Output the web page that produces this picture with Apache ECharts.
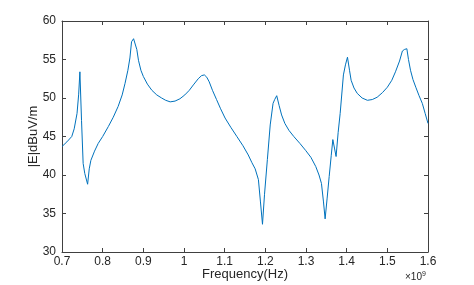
<!DOCTYPE html>
<html>
<head>
<meta charset="utf-8">
<script src="https://cdn.jsdelivr.net/npm/echarts@6/dist/echarts.min.js"></script>
<style>
html, body { margin: 0; padding: 0; background: #fff; }
#main { width: 474px; height: 285px; }
</style>
</head>
<body>
<div id="main"></div>
<script>
// frequency in units of 1e9 Hz
var freq = [0.700, 0.712, 0.724, 0.730, 0.737, 0.741, 0.744, 0.748, 0.752, 0.756, 0.763, 0.767, 0.771, 0.780, 0.789,
	0.800, 0.814, 0.826, 0.838, 0.848, 0.855, 0.862, 0.867, 0.871, 0.876, 0.880, 0.884, 0.888, 0.894, 0.900,
	0.910, 0.921, 0.933, 0.945, 0.955, 0.966, 0.978, 0.990, 1.002, 1.013, 1.023, 1.035, 1.043, 1.050, 1.056,
	1.062, 1.070, 1.080, 1.090, 1.101, 1.115, 1.130, 1.145, 1.158, 1.167, 1.175, 1.183, 1.188, 1.193, 1.198,
	1.205, 1.212, 1.219, 1.223, 1.228, 1.234, 1.240, 1.248, 1.258, 1.270, 1.285, 1.299, 1.312, 1.324, 1.332,
	1.338, 1.343, 1.347, 1.352, 1.357, 1.362, 1.366, 1.370, 1.374, 1.379, 1.384, 1.392, 1.397, 1.402, 1.407,
	1.411, 1.418, 1.426, 1.438, 1.451, 1.463, 1.475, 1.488, 1.500, 1.511, 1.520, 1.530, 1.537, 1.542, 1.548,
	1.552, 1.557, 1.563, 1.570, 1.578, 1.586, 1.593, 1.600];
var level = [43.7, 44.3, 45.0, 46.0, 48.0, 50.5, 53.4, 47.1, 41.5, 40.2, 38.8, 40.8, 41.9, 43.1, 44.1,
	45.0, 46.3, 47.5, 48.9, 50.4, 51.9, 53.6, 55.2, 57.3, 57.7, 57.9, 56.3, 54.9, 53.6, 52.8,
	51.8, 51.0, 50.4, 50.0, 49.7, 49.5, 49.6, 49.9, 50.4, 51.0, 51.7, 52.5, 52.9, 53.0, 52.7,
	52.1, 51.0, 49.8, 48.6, 47.4, 46.2, 45.0, 43.8, 42.6, 41.6, 40.8, 39.4, 36.5, 33.6, 37.5,
	42.0, 46.5, 49.3, 49.8, 50.3, 49.0, 47.8, 46.7, 45.8, 45.0, 44.1, 43.2, 42.3, 41.1, 40.0,
	38.9, 36.5, 34.3, 37.0, 39.8, 42.5, 44.6, 43.5, 42.4, 45.5, 48.0, 53.0, 54.3, 55.3, 53.6,
	52.3, 51.3, 50.6, 50.0, 49.7, 49.8, 50.1, 50.7, 51.4, 52.3, 53.4, 54.8, 56.1, 56.3, 56.4,
	55.0, 53.6, 52.4, 51.4, 50.3, 49.3, 48.0, 46.7];

var xMin = 0.7, xMax = 1.6, xStep = 0.1;
var yMin = 30, yMax = 60, yStep = 5;

var points = freq.map(function(f, k) { return [f, level[k]]; });

var axisCol = '#404040';
var textCol = '#262626';
var font = 'Liberation Sans, Arial, sans-serif';

var myChart = echarts.init(document.getElementById('main'));

var option = {
	backgroundColor: '#fff',
	animation: false,
	grid: { left: 62, right: 46, top: 21, bottom: 33, outerBoundsMode: 'none', containLabel: false },
	xAxis: [{
		type: 'value', min: xMin, max: xMax, interval: xStep,
		name: 'Frequency(Hz)', nameLocation: 'middle', nameGap: 16, nameMoveOverlap: false,
		nameTextStyle: { color: textCol, fontSize: 13, fontFamily: font },
		axisLine: { lineStyle: { color: axisCol, width: 1 } },
		axisTick: { inside: true, length: 4, lineStyle: { color: axisCol } },
		axisLabel: { color: textCol, fontSize: 12, fontFamily: font, margin: 4 },
		splitLine: { show: false }
	}, {
		type: 'value', min: xMin, max: xMax, interval: xStep, position: 'top',
		axisLine: { lineStyle: { color: axisCol, width: 1 } },
		axisTick: { inside: true, length: 4, lineStyle: { color: axisCol } },
		axisLabel: { show: false },
		splitLine: { show: false }
	}],
	yAxis: [{
		type: 'value', min: yMin, max: yMax, interval: yStep,
		name: '|E|dBuV/m', nameLocation: 'middle', nameGap: 22, nameMoveOverlap: false,
		nameTextStyle: { color: textCol, fontSize: 13, fontFamily: font },
		axisLine: { show: true, lineStyle: { color: axisCol, width: 1 } },
		axisTick: { show: true, inside: true, length: 4, lineStyle: { color: axisCol } },
		axisLabel: { color: textCol, fontSize: 12, fontFamily: font, margin: 6 },
		splitLine: { show: false }
	}, {
		type: 'value', min: yMin, max: yMax, interval: yStep, position: 'right',
		axisLine: { show: true, lineStyle: { color: axisCol, width: 1 } },
		axisTick: { show: true, inside: true, length: 4, lineStyle: { color: axisCol } },
		axisLabel: { show: false },
		splitLine: { show: false }
	}],
	graphic: [{
		type: 'text', left: 405, top: 271,
		style: {
			text: '×10{s|9}',
			fill: textCol, fontSize: 10, fontFamily: font,
			rich: { s: { fontSize: 7, verticalAlign: 'top', padding: [0, 0, 5, 0], fill: textCol } }
		}
	}],
	series: [{
		type: 'line', xAxisIndex: 0, yAxisIndex: 0,
		data: points, showSymbol: false, symbol: 'none',
		lineStyle: { color: '#0072BD', width: 1 }
	}]
};
myChart.setOption(option);
</script>
</body>
</html>
